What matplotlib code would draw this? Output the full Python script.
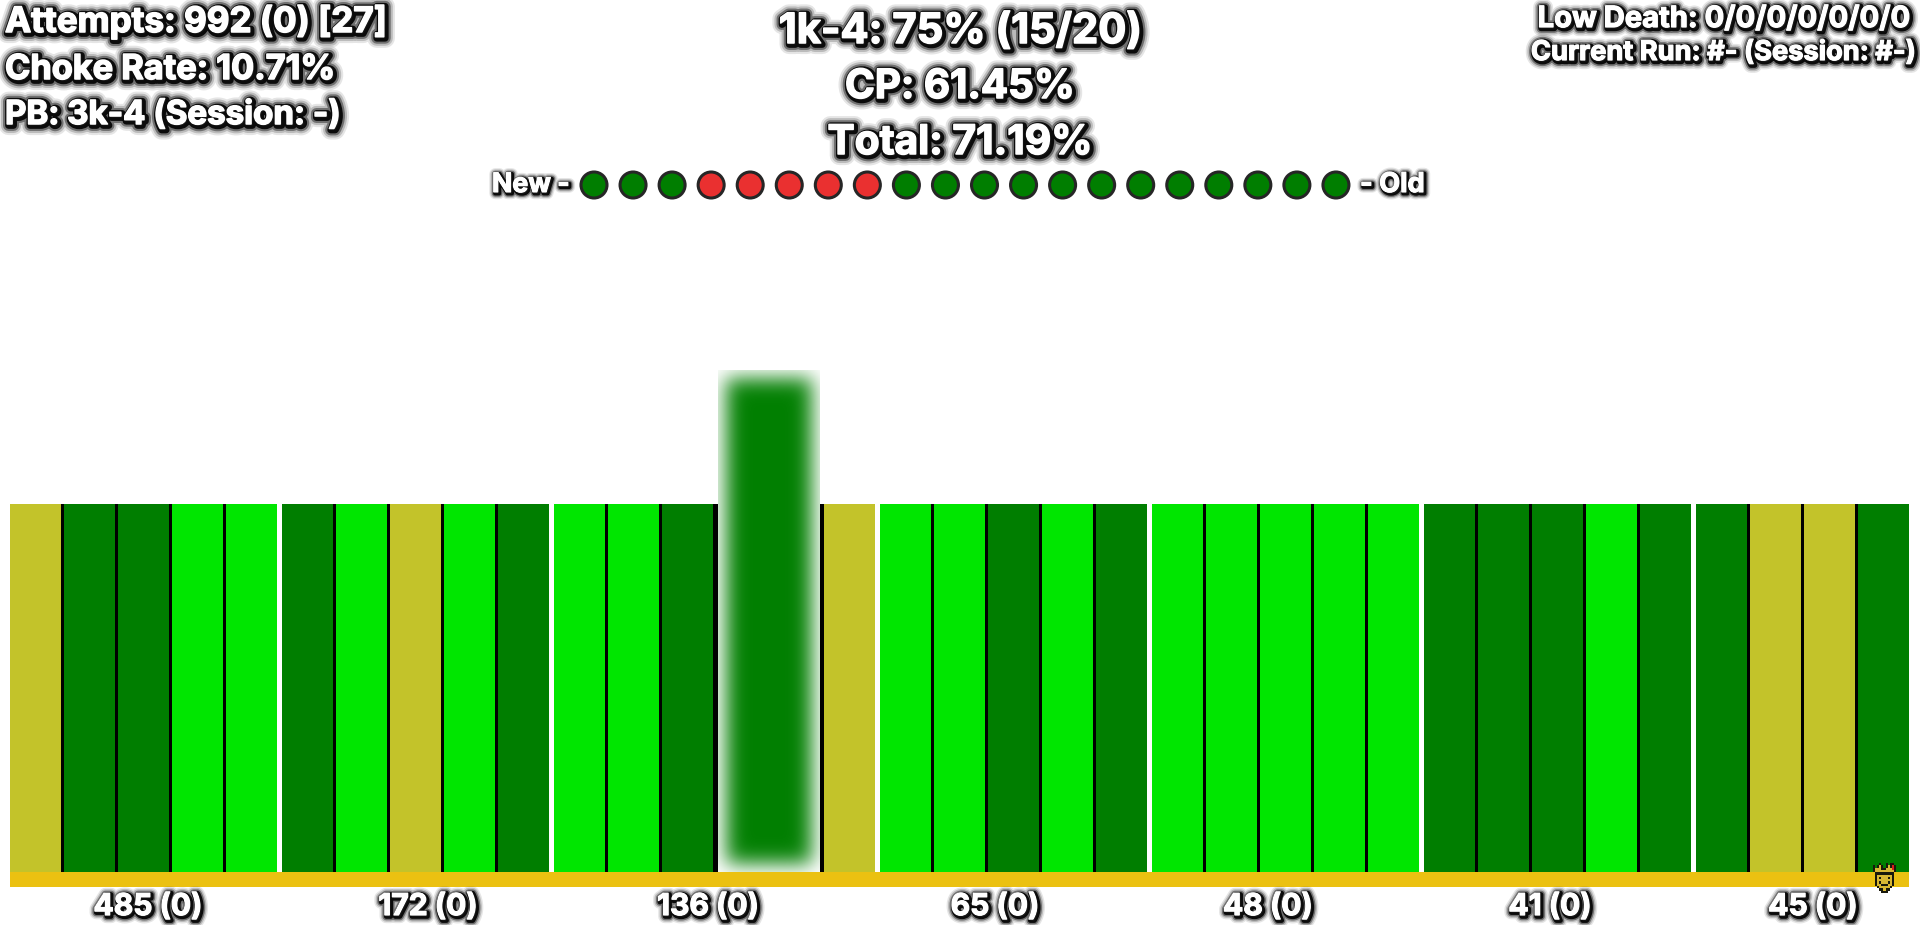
import numpy as np
import matplotlib
matplotlib.use("Agg")
import matplotlib.pyplot as plt
import matplotlib.patheffects as pe
from math import erf

# --- data ---
group_sizes = [5, 5, 5, 5, 5, 5, 4]
group_labels = ["485 (0)", "172 (0)", "136 (0)", "65 (0)", "48 (0)", "41 (0)", "45 (0)"]
label_x = [148, 428, 708, 995, 1268, 1550, 1813]
bar_status = ["gold", "dark", "dark", "lime", "lime",
              "dark", "lime", "gold", "lime", "dark",
              "lime", "lime", "dark", "hover", "gold",
              "lime", "lime", "dark", "lime", "dark",
              "lime", "lime", "lime", "lime", "lime",
              "dark", "dark", "dark", "lime", "dark",
              "dark", "gold", "gold", "dark"]
bar_values = [1.0] * 34
bar_values[13] = 1.364
history = [1, 1, 1, 0, 0, 0, 0, 0, 1, 1, 1, 1, 1, 1, 1, 1, 1, 1, 1, 1]
left_lines = ["Attempts: 992 (0) [27]", "Choke Rate: 10.71%", "PB: 3k-4 (Session: -)"]
center_lines = ["1k-4: 75% (15/20)", "CP: 61.45%", "Total: 71.19%"]
right_lines = ["Low Death: 0/0/0/0/0/0/0", "Current Run: #- (Session: #-)"]

COL = {"gold": "#c3c32a", "dark": "#007e00", "lime": "#00e600", "hover": "#007e00"}
GREEN, RED, EDGE, BAND = "#007e00", "#ea3030", "#262626", "#ebc111"

W, H = 1920, 925
BASE, UNIT = 872, 368
plt.rcParams["font.family"] = ["Inter", "DejaVu Sans"]
fig = plt.figure(figsize=(W / 100, H / 100), dpi=100)
ax = fig.add_axes([0, 0, 1, 1])
ax.axis("off")

PITCH, BW, X0, GAP = 54, 51, 10, 2
slot, idx = 0, 0
for g, n in enumerate(group_sizes):
    slots = n + (1 if g == 2 else 0)
    gx = X0 + slot * PITCH + g * GAP
    ax.bar(gx, 1.0, width=slots * PITCH - 3, align="edge", color="black", zorder=1)
    s = 0
    for k in range(n):
        x = gx + s * PITCH
        st, v = bar_status[idx], bar_values[idx]
        if st == "hover":
            w = 102
            x = x + 2
            ax.bar(x, v, width=w, align="edge", color="white", zorder=2)
            nx, ny = 204, 502
            px = np.linspace(0, w, nx); py_ = np.linspace(0, v * UNIT, ny)
            f = np.vectorize(lambda d: 0.5 * (1 + erf((d - 8) / (10 * 2 ** 0.5))))
            ax_ = f(np.minimum(px, w - px)); ay = f(np.minimum(py_, v * UNIT - py_))
            rgba = np.zeros((ny, nx, 4))
            rgba[..., :3] = matplotlib.colors.to_rgb(COL[st])
            rgba[..., 3] = np.outer(ay, ax_)
            ax.imshow(rgba, extent=[x, x + w, 0, v], aspect="auto", zorder=3, origin="lower", interpolation="bilinear")
            s += 2
        else:
            ax.bar(x, v, width=BW, align="edge", color=COL[st], zorder=2)
            s += 1
        idx += 1
    slot += slots
# gold progress band
ax.bar(X0, -15 / UNIT, width=1899, align="edge", color=BAND, zorder=4)

def py(p):
    return (BASE - p) / UNIT

def shadow(k=1.0, bold=1.1):
    eff = [pe.withStroke(linewidth=lw * k, foreground="black", alpha=a, offset=(1, -1)) for lw, a in
           [(14, 0.10), (11, 0.18), (8, 0.40), (5, 0.9)]]
    return eff + [pe.withStroke(linewidth=bold, foreground="white")]

def label(x, y, s, size, ha="left", k=1.0, bold=1.1):
    ax.text(x, py(y), s, fontsize=size, fontweight="bold", color="white", ha=ha, va="baseline",
            zorder=6, path_effects=shadow(k, bold))

for s, y, fs in zip(left_lines, [32, 79, 124], [25.2, 24.7, 23.8]):
    label(5, y, s, fs)
for s, y, fs in zip(center_lines, [43, 98, 154], [30, 29, 29.3]):
    label(960, y, s, fs, ha="center")
for s, y, x, fs in zip(right_lines, [27, 60], [1911, 1916], [21, 19.6]):
    label(x, y, s, fs, ha="right", k=0.8, bold=0.9)
for s, x in zip(group_labels, label_x):
    label(x, 915, s, 21.6, ha="center", k=0.7, bold=0.9)
label(492, 192, "New -", 19.2, k=0.6, bold=0.8)
label(1360, 192, "- Old", 19.6, k=0.6, bold=0.8)

# history dots
dx = 594 + 39.05 * np.arange(len(history))
ax.scatter(dx, [py(185)] * len(history), s=(26 * 0.72) ** 2,
           c=[GREEN if h else RED for h in history], edgecolors=EDGE, linewidths=2.2, zorder=6)

# crown icon (pixel sprite, 2px cells)
sprite = ["...k..k.kk.",
          "k.kyk.kykrk",
          "kyyykkyyyrk",
          "kyyyyyyyyyk",
          ".kkkkkkkkk.",
          ".kyyyyyyyk.",
          ".kykyyykyk.",
          ".kyyyyyyyk.",
          ".kykyyykyk.",
          ".kyykkkyyk.",
          "..kyyyyyk..",
          "...kkykk...",
          "....kkk...."]
pal = {".": (0, 0, 0, 0), "k": (0.1, 0.1, 0.05, 1), "y": (0.85, 0.72, 0.2, 1), "r": (0.85, 0.12, 0.1, 1)}
img = np.array([[pal[c] for c in row] for row in sprite])
ax.imshow(img, extent=[1873, 1896, py(893), py(864)], aspect="auto", zorder=7, interpolation="nearest")
ax.set_xlim(0, W)
ax.set_ylim(-(H - BASE) / UNIT, BASE / UNIT)
fig.savefig("out.png", dpi=100, facecolor="white")
